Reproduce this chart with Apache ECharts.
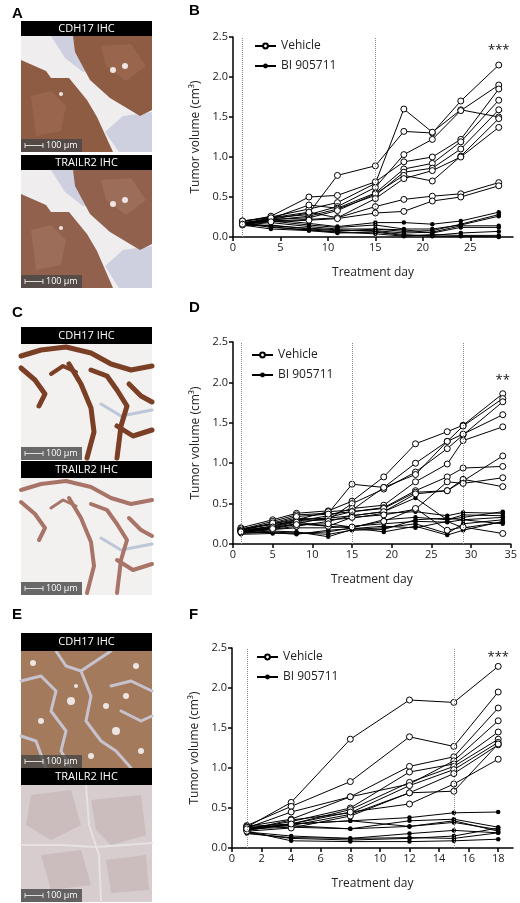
<!DOCTYPE html>
<html><head><meta charset="utf-8">
<script src="https://cdn.jsdelivr.net/npm/echarts@6/dist/echarts.min.js"></script>
<style>html,body{margin:0;padding:0;background:#fff}#c{width:520px;height:903px}</style>
</head><body><div id="c"></div>
<script>
// ---------- data ----------
const legendNames = ['Vehicle', 'BI 905711'];

const daysB = [1, 4, 8, 11, 15, 18, 21, 24, 28];
const doseDaysB = [1, 15];
const vehicleB = [
  [0.18, 0.22, 0.30, 0.77, 0.89, 1.32, 1.30, 1.70, 2.15],
  [0.20, 0.25, 0.35, 0.43, 0.67, 1.60, 1.31, 1.59, 1.50],
  [0.17, 0.24, 0.28, 0.38, 0.62, 1.03, 1.22, 1.58, 1.90],
  [0.19, 0.26, 0.50, 0.52, 0.69, 0.94, 1.00, 1.22, 1.85],
  [0.16, 0.23, 0.40, 0.36, 0.55, 0.85, 0.92, 1.19, 1.71],
  [0.18, 0.21, 0.26, 0.35, 0.52, 0.81, 0.86, 1.10, 1.59],
  [0.15, 0.22, 0.24, 0.33, 0.54, 0.77, 0.70, 1.01, 1.48],
  [0.17, 0.20, 0.22, 0.24, 0.48, 0.73, 0.83, 1.00, 1.37],
  [0.20, 0.24, 0.31, 0.24, 0.38, 0.47, 0.51, 0.54, 0.68],
  [0.16, 0.19, 0.21, 0.23, 0.30, 0.32, 0.45, 0.50, 0.64]
];
const treatedB = [
  [0.17, 0.22, 0.17, 0.13, 0.18, 0.18, 0.16, 0.20, 0.31],
  [0.15, 0.18, 0.13, 0.10, 0.10, 0.07, 0.08, 0.16, 0.28],
  [0.16, 0.20, 0.15, 0.12, 0.15, 0.10, 0.10, 0.15, 0.26],
  [0.14, 0.15, 0.10, 0.08, 0.08, 0.05, 0.06, 0.14, 0.14],
  [0.18, 0.13, 0.08, 0.07, 0.10, 0.09, 0.05, 0.12, 0.12],
  [0.15, 0.10, 0.08, 0.05, 0.06, 0.02, 0.02, 0.05, 0.07],
  [0.17, 0.12, 0.09, 0.06, 0.04, 0.01, 0.03, 0.02, 0.02],
  [0.16, 0.14, 0.11, 0.09, 0.07, 0.03, 0.01, 0.01, 0.00]
];

const daysD = [1, 5, 8, 12, 15, 19, 23, 27, 29, 34];
const doseDaysD = [1, 15, 29];
const vehicleD = [
  [0.20, 0.30, 0.38, 0.41, 0.53, 0.83, 1.24, 1.39, 1.47, 1.86],
  [0.18, 0.28, 0.36, 0.38, 0.74, 0.70, 1.00, 1.27, 1.46, 1.80],
  [0.17, 0.25, 0.32, 0.30, 0.50, 0.68, 0.89, 1.18, 1.35, 1.76],
  [0.16, 0.22, 0.30, 0.40, 0.42, 0.70, 0.86, 1.27, 1.36, 1.60],
  [0.19, 0.24, 0.28, 0.35, 0.44, 0.48, 0.77, 0.99, 1.28, 1.45],
  [0.15, 0.20, 0.25, 0.33, 0.40, 0.45, 0.66, 0.83, 0.94, 0.96],
  [0.17, 0.26, 0.34, 0.37, 0.40, 0.44, 0.64, 0.66, 0.78, 1.09],
  [0.14, 0.18, 0.22, 0.28, 0.35, 0.40, 0.62, 0.66, 0.80, 0.71],
  [0.16, 0.21, 0.27, 0.22, 0.33, 0.36, 0.43, 0.77, 0.75, 0.82],
  [0.15, 0.19, 0.24, 0.25, 0.21, 0.28, 0.44, 0.17, 0.21, 0.13]
];
const treatedD = [
  [0.18, 0.25, 0.30, 0.32, 0.35, 0.40, 0.57, 0.30, 0.33, 0.40],
  [0.17, 0.22, 0.28, 0.30, 0.32, 0.38, 0.40, 0.35, 0.39, 0.38],
  [0.16, 0.20, 0.25, 0.22, 0.20, 0.30, 0.33, 0.30, 0.36, 0.35],
  [0.15, 0.18, 0.20, 0.20, 0.22, 0.25, 0.28, 0.27, 0.30, 0.33],
  [0.14, 0.16, 0.15, 0.09, 0.18, 0.20, 0.25, 0.13, 0.25, 0.30],
  [0.13, 0.15, 0.13, 0.15, 0.20, 0.15, 0.22, 0.11, 0.17, 0.28],
  [0.15, 0.14, 0.12, 0.17, 0.19, 0.22, 0.20, 0.28, 0.20, 0.27],
  [0.12, 0.13, 0.14, 0.12, 0.17, 0.18, 0.30, 0.32, 0.30, 0.25]
];

const daysF = [1, 4, 8, 12, 15, 18];
const doseDaysF = [1, 15];
const vehicleF = [
  [0.26, 0.57, 1.36, 1.85, 1.82, 2.27],
  [0.28, 0.52, 0.83, 1.39, 1.27, 1.95],
  [0.25, 0.45, 0.64, 1.02, 1.14, 1.75],
  [0.27, 0.36, 0.64, 0.80, 1.09, 1.59],
  [0.24, 0.33, 0.50, 0.95, 1.05, 1.45],
  [0.22, 0.30, 0.48, 0.82, 1.02, 1.36],
  [0.23, 0.35, 0.44, 0.78, 0.98, 1.32],
  [0.26, 0.28, 0.42, 0.69, 0.93, 1.29],
  [0.21, 0.25, 0.40, 0.69, 0.71, 1.30],
  [0.24, 0.30, 0.45, 0.55, 0.80, 1.11]
];
const treatedF = [
  [0.27, 0.30, 0.34, 0.38, 0.44, 0.45],
  [0.25, 0.28, 0.24, 0.34, 0.36, 0.26],
  [0.24, 0.26, 0.24, 0.27, 0.32, 0.23],
  [0.22, 0.30, 0.34, 0.27, 0.34, 0.21],
  [0.20, 0.15, 0.12, 0.18, 0.22, 0.19],
  [0.19, 0.12, 0.10, 0.12, 0.15, 0.25],
  [0.18, 0.13, 0.12, 0.13, 0.12, 0.19],
  [0.21, 0.09, 0.08, 0.08, 0.09, 0.11]
];

const significance = [
  { text: '***', day: 28, value: 2.33 },
  { text: '**', day: 34, value: 2.02 },
  { text: '***', day: 18, value: 2.38 }
];

// ---------- chart ----------
const FONT = '"Open Sans", "Noto Sans", sans-serif';
const panels = [
  { days: daysB, vehicle: vehicleB, treated: treatedB, dose: doseDaysB, max: 29.5, interval: 5, ticks: [0,5,10,15,20,25],
    grid: { left: 233, top: 37, width: 280, height: 200 }, legend: { left: 254, top: 38 } },
  { days: daysD, vehicle: vehicleD, treated: treatedD, dose: doseDaysD, max: 35, interval: 5, ticks: [0,5,10,15,20,25,30,35],
    grid: { left: 233, top: 342, width: 280, height: 202 }, legend: { left: 251, top: 347 } },
  { days: daysF, vehicle: vehicleF, treated: treatedF, dose: doseDaysF, max: 19, interval: 2, ticks: [0,2,4,6,8,10,12,14,16,18],
    grid: { left: 232, top: 648, width: 281, height: 200 }, legend: { left: 256, top: 649 } }
];

const axisCommon = {
  axisLine: { lineStyle: { color: '#000', width: 1.5 } },
  axisTick: { length: 4, lineStyle: { color: '#000', width: 1.5 } },
  axisLabel: { color: '#222', fontSize: 11, fontFamily: FONT, margin: 5 },
  splitLine: { show: false },
  nameTextStyle: { color: '#222', fontSize: 12, fontFamily: FONT }
};

const grids = [], xAxes = [], yAxes = [], series = [], legends = [];
panels.forEach((p, i) => {
  grids.push(Object.assign({ containLabel: false }, p.grid));
  xAxes.push(Object.assign({}, axisCommon, {
    gridIndex: i, type: 'value', min: 0, max: p.max, interval: p.interval,
    name: 'Treatment day', nameLocation: 'middle', nameGap: 30,
    axisTick: Object.assign({}, axisCommon.axisTick, { customValues: p.ticks }),
    axisLabel: Object.assign({}, axisCommon.axisLabel, { customValues: p.ticks })
  }));
  yAxes.push(Object.assign({}, axisCommon, {
    gridIndex: i, type: 'value', min: 0, max: 2.5, interval: 0.5,
    name: 'Tumor volume (cm³)', nameLocation: 'middle', nameGap: 28,
    axisLabel: Object.assign({}, axisCommon.axisLabel, { formatter: v => v.toFixed(1) })
  }));
  legends.push({
    left: p.legend.left, top: p.legend.top + 2, orient: 'vertical', padding: 0,
    itemWidth: 21, itemHeight: 6, itemGap: 8, selectedMode: false,
    data: legendNames, textStyle: { color: '#222', fontSize: 12, fontFamily: FONT }
  });
  p.treated.forEach(vals => {
    series.push({
      type: 'line', name: legendNames[1], xAxisIndex: i, yAxisIndex: i,
      data: p.days.map((d, j) => [d, vals[j]]),
      symbol: 'circle', symbolSize: 4.5, showSymbol: true,
      itemStyle: { color: '#000' }, lineStyle: { color: '#000', width: 1 }, z: 2
    });
  });
  p.vehicle.forEach((vals, k) => {
    const s = {
      type: 'line', name: legendNames[0], xAxisIndex: i, yAxisIndex: i,
      data: p.days.map((d, j) => [d, vals[j]]),
      symbol: 'circle', symbolSize: 6, showSymbol: true,
      itemStyle: { color: '#fff', borderColor: '#000', borderWidth: 1 },
      lineStyle: { color: '#000', width: 1 }, z: 3
    };
    if (k === 0) {
      s.markLine = {
        silent: true, symbol: ['none', 'none'], label: { show: false },
        lineStyle: { type: 'dotted', color: '#888', width: 1 },
        data: p.dose.map(d => ({ xAxis: d }))
      };
      const sg = significance[i];
      s.markPoint = {
        silent: true, symbol: 'rect', symbolSize: 1, itemStyle: { color: 'rgba(0,0,0,0)' },
        label: { show: true, position: 'inside', color: '#111', fontSize: 13, fontFamily: FONT, formatter: sg.text },
        data: [{ coord: [sg.day, sg.value] }]
      };
    }
    series.push(s);
  });
});

// ---------- IHC panel illustrations (decorative) ----------
const IMG_X = 21, IMG_W = 131;
function header(y, h, text) {
  return [
    { type: 'rect', shape: { x: IMG_X, y: y, width: IMG_W, height: h }, style: { fill: '#000' } },
    { type: 'text', x: IMG_X + IMG_W / 2, y: y + h / 2, style: { text: text, fill: '#fff', font: '11px ' + FONT, align: 'center', verticalAlign: 'middle' } }
  ];
}
function scaleBar(y, h) {
  return [
    { type: 'rect', shape: { x: IMG_X, y: y + h - 13, width: 61, height: 13 }, style: { fill: 'rgba(70,70,70,0.8)' } },
    { type: 'line', shape: { x1: IMG_X + 4, y1: y + h - 6.5, x2: IMG_X + 22, y2: y + h - 6.5 }, style: { stroke: '#ddd', lineWidth: 1 } },
    { type: 'line', shape: { x1: IMG_X + 4, y1: y + h - 9, x2: IMG_X + 4, y2: y + h - 4 }, style: { stroke: '#ddd', lineWidth: 1 } },
    { type: 'line', shape: { x1: IMG_X + 22, y1: y + h - 9, x2: IMG_X + 22, y2: y + h - 4 }, style: { stroke: '#ddd', lineWidth: 1 } },
    { type: 'text', x: IMG_X + 25, y: y + h - 6.5, style: { text: '100 µm', fill: '#fff', font: '9px ' + FONT, verticalAlign: 'middle' } }
  ];
}
function poly(y, pts, fill) {
  return { type: 'polygon', shape: { points: pts.map(p => [IMG_X + p[0], y + p[1]]) }, style: { fill: fill } };
}
function pline(y, pts, stroke, w) {
  return { type: 'polyline', shape: { points: pts.map(p => [IMG_X + p[0], y + p[1]]) }, style: { stroke: stroke, lineWidth: w, fill: null, lineJoin: 'round', lineCap: 'round' } };
}
function spot(y, cx, cy, r, fill) {
  return { type: 'circle', shape: { cx: IMG_X + cx, cy: y + cy, r: r }, style: { fill: fill } };
}
function bg(y, h, fill) {
  return { type: 'rect', shape: { x: IMG_X, y: y, width: IMG_W, height: h }, style: { fill: fill } };
}

function tissueA(y, h, brown, brown2) {
  return [
    bg(y, h, '#efeded'),
    poly(y, [[30,0],[58,0],[62,18],[74,34],[62,36],[44,22]], '#cfd0df'),
    poly(y, [[84,96],[102,80],[131,76],[131,h],[98,h]], '#cfd0df'),
    poly(y, [[0,24],[25,35],[30,42],[48,42],[66,64],[76,81],[92,h],[0,h]], brown),
    poly(y, [[52,0],[131,0],[131,74],[119,80],[89,62],[69,44],[54,16]], brown),
    poly(y, [[10,60],[30,55],[45,70],[40,95],[15,100]], brown2),
    poly(y, [[80,10],[110,8],[125,30],[105,45],[85,30]], brown2),
    spot(y, 92, 34, 3, '#efe6e4'), spot(y, 104, 30, 3, '#efe6e4'),
    spot(y, 40, 58, 2, '#efe6e4')
  ];
}
function tissueC(y, h, stroke, w) {
  return [
    bg(y, h, '#f3f1ef'),
    pline(y, [[80,60],[100,72],[131,66]], '#bcc6d8', 3),
    pline(y, [[0,12],[20,6],[45,3],[70,9],[90,20],[110,26],[131,22]], stroke, w),
    pline(y, [[0,24],[14,36],[24,50],[18,62]], stroke, w),
    pline(y, [[48,20],[60,40],[70,64],[73,88],[66,h-2]], stroke, w),
    pline(y, [[70,26],[86,32],[96,46],[106,62],[100,82],[96,h-2]], stroke, w),
    pline(y, [[108,40],[120,52],[131,58]], stroke, w),
    pline(y, [[96,82],[112,92],[131,86]], stroke, w),
    pline(y, [[30,30],[42,22],[55,28]], stroke, w - 1)
  ];
}
function tissueE1(y, h) {
  const els = [bg(y, h, '#a47a5c')];
  const c = '#c6c3cf';
  els.push(pline(y, [[0,30],[20,25],[35,40],[30,60],[45,80],[40,100],[50,h]], c, 3));
  els.push(pline(y, [[35,0],[45,15],[60,20],[75,10],[90,0]], c, 3));
  els.push(pline(y, [[60,20],[70,45],[65,70],[80,90],[95,100],[110,h]], c, 3));
  els.push(pline(y, [[90,35],[110,30],[131,40]], c, 3));
  els.push(pline(y, [[100,60],[120,70],[131,65]], c, 3));
  els.push(pline(y, [[0,85],[15,90],[25,h]], c, 3));
  [[12,12,3],[50,50,4],[85,55,3],[115,15,3],[20,70,3],[95,80,4],[120,100,3],[70,105,3],[55,35,2],[105,45,3]].forEach(s => els.push(spot(y, s[0], s[1], s[2], '#ebe6e3')));
  return els;
}
function tissueE2(y, h) {
  const els = [bg(y, h, '#d7cdcf')];
  els.push(poly(y, [[10,10],[50,5],[60,40],[30,55],[5,40]], '#cbbcbd'));
  els.push(poly(y, [[70,15],[120,10],[125,50],[90,60],[75,45]], '#cbbcbd'));
  els.push(poly(y, [[20,70],[60,65],[70,100],[30,105]], '#cbbcbd'));
  els.push(poly(y, [[85,75],[125,70],[128,105],[90,108]], '#cbbcbd'));
  els.push(pline(y, [[0,60],[40,60],[75,62],[131,58]], '#e6e1e3', 2));
  els.push(pline(y, [[65,0],[68,40],[78,70],[80,h]], '#e6e1e3', 2));
  return els;
}

const graphics = [];
function letter(t, x, y) {
  graphics.push({ type: 'text', x: x, y: y, style: { text: t, fill: '#000', font: 'bold 15px "Liberation Sans", Arial, sans-serif', verticalAlign: 'top' } });
}
// Panel A
graphics.push(...tissueA(36, 116, '#8e5b43', '#99664d'), ...scaleBar(36, 116), ...header(21, 15, 'CDH17 IHC'));
graphics.push(...tissueA(170, 118, '#91614d', '#9c6d59'), ...scaleBar(170, 118), ...header(155, 15, 'TRAILR2 IHC'));
// Panel C
graphics.push(...tissueC(344, 116, '#7b3f26', 5), ...scaleBar(344, 116), ...header(327, 17, 'CDH17 IHC'));
graphics.push(...tissueC(478, 117, '#a87468', 4), ...scaleBar(478, 117), ...header(461, 17, 'TRAILR2 IHC'));
// Panel E
graphics.push(...tissueE1(651, 117), ...scaleBar(651, 117), ...header(633, 18, 'CDH17 IHC'));
graphics.push(...tissueE2(785, 117), ...scaleBar(785, 117), ...header(768, 17, 'TRAILR2 IHC'));

letter('A', 12, 6); letter('B', 189, 3);
letter('C', 12, 305); letter('D', 189, 300);
letter('E', 12, 607); letter('F', 189, 607);

const chart = echarts.init(document.getElementById('c'), null, { renderer: 'canvas' });
chart.setOption({
  animation: false,
  backgroundColor: '#fff',
  grid: grids, xAxis: xAxes, yAxis: yAxes, legend: legends, series: series,
  graphic: graphics
});
</script></body></html>
